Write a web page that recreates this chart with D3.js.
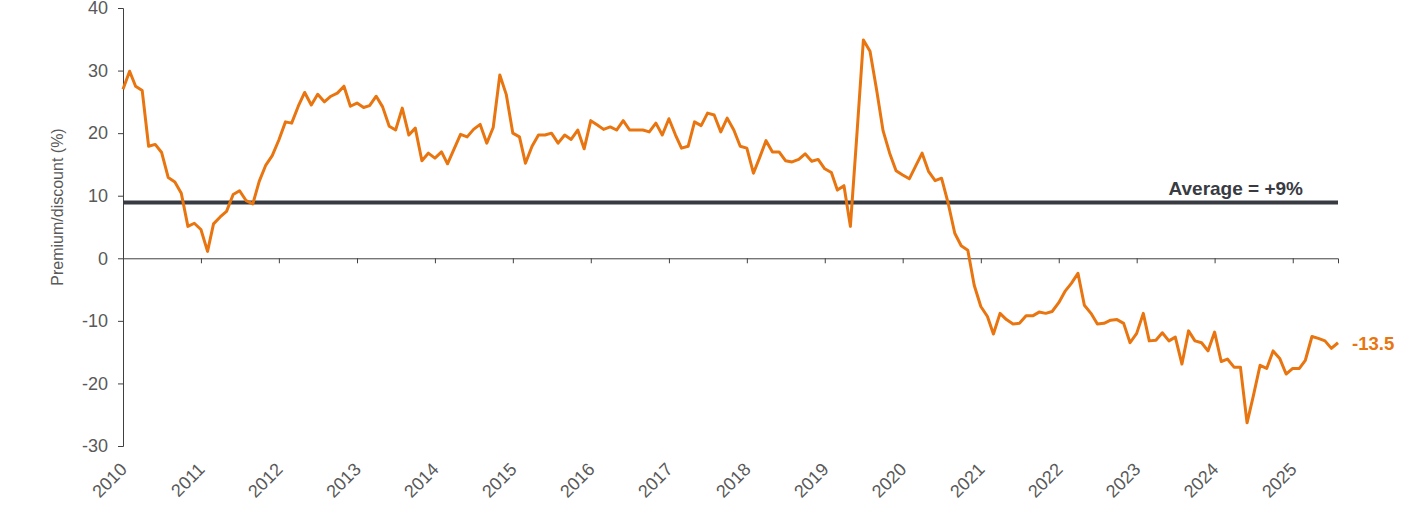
<!DOCTYPE html>
<html>
<head>
<meta charset="utf-8">
<script src="https://cdn.jsdelivr.net/npm/d3@7"></script>
<style>
  body { margin: 0; background: #fff; }
  svg { display: block; font-family: 'Liberation Sans', Arial, sans-serif; }
</style>
</head>
<body>
<svg></svg>
<script>
const w = 1417
const h = 510

// monthly premium/discount (%), starting Jan 2010
const startMonth = '2010-01'
const premium = [
  27.0, 29.9, 27.5, 26.8, 17.9, 18.2, 16.9, 12.9, 12.2, 10.4, 5.1, 5.6,        // 2010
  4.6, 1.1, 5.5, 6.6, 7.5, 10.2, 10.8, 9.2, 8.7, 12.3, 14.9, 16.4,             // 2011
  18.9, 21.8, 21.6, 24.3, 26.5, 24.5, 26.2, 25.0, 25.9, 26.4, 27.5, 24.3,      // 2012
  24.8, 24.1, 24.4, 25.9, 24.2, 21.1, 20.5, 24.0, 19.7, 20.8, 15.6, 16.8,      // 2013
  16.0, 17.0, 15.1, 17.5, 19.8, 19.4, 20.6, 21.4, 18.4, 20.9, 29.3, 26.2,      // 2014
  20.0, 19.4, 15.2, 17.9, 19.7, 19.7, 20.0, 18.4, 19.7, 19.0, 20.5, 17.5,      // 2015
  22.0, 21.3, 20.6, 21.0, 20.5, 22.0, 20.5, 20.5, 20.5, 20.2, 21.6, 19.7,      // 2016
  22.3, 19.7, 17.6, 17.9, 21.8, 21.2, 23.2, 22.9, 20.2, 22.4, 20.5, 17.9,      // 2017
  17.6, 13.6, 16.0, 18.8, 17.0, 17.0, 15.6, 15.4, 15.8, 16.7, 15.5, 15.8,      // 2018
  14.3, 13.7, 10.9, 11.6, 5.1, 20.0, 34.9, 33.1, 26.9, 20.4, 16.8, 14.0,       // 2019
  13.3, 12.7, 14.7, 16.8, 13.9, 12.4, 12.8, 8.8, 4.0, 2.0, 1.3, -4.3,          // 2020
  -7.7, -9.3, -12.1, -8.8, -9.8, -10.5, -10.4, -9.2, -9.2, -8.6, -8.8, -8.5,   // 2021
  -7.1, -5.2, -4.0, -2.4, -7.5, -8.8, -10.5, -10.4, -9.9, -9.8, -10.4, -13.5,  // 2022
  -12.0, -8.8, -13.2, -13.1, -11.9, -13.2, -12.6, -16.9, -11.6, -13.2, -13.5, -14.8, // 2023
  -11.8, -16.5, -16.1, -17.4, -17.4, -26.3, -21.9, -17.1, -17.6, -14.8, -16.0, -18.5, // 2024
  -17.6, -17.6, -16.3, -12.5, -12.8, -13.2, -14.4, -13.5                       // 2025
]

const average = 8.9
const averageLabel = 'Average = +9%'
const yTicks = [40, 30, 20, 10, 0, -10, -20, -30]
const xTickYears = d3.range(2010, 2026)
const yLabel = 'Premium/discount (%)'

const orange = '#e8750f'
const grey = '#595959'
const dark = '#383b42'

const svg = d3.select('svg')
  .attr('width', w)
  .attr('height', h)

const parseMonth = d3.timeParse('%Y-%m')
const start = parseMonth(startMonth)
const data = premium.map((v, i) => ({ date: d3.timeMonth.offset(start, i), value: v }))

const margin = { top: 8, right: 79, bottom: 64, left: 123 }
const innerWidth = w - margin.left - margin.right
const innerHeight = h - margin.top - margin.bottom

const xScale = d3.scaleTime()
  .domain(d3.extent(data, d => d.date))
  .range([0, innerWidth])

const yScale = d3.scaleLinear()
  .domain([-30, 40])
  .range([innerHeight, 0])

const g = svg.append('g')
  .attr('transform', `translate(${margin.left}, ${margin.top})`)

// y axis (plain hyphen for negatives, like the source)
const yAxisG = g.append('g')
  .call(d3.axisLeft(yScale).tickValues(yTicks).tickSize(5).tickPadding(10).tickFormat(d => String(d)))
yAxisG.select('.domain').attr('stroke', '#404040')
yAxisG.selectAll('.tick line').attr('stroke', '#404040')
yAxisG.selectAll('text')
  .attr('font-size', 18)
  .attr('fill', grey)

// x axis on the zero line
const xTickDates = xTickYears.map(y => new Date(y, 0, 1))
const zeroAxis = g.append('g')
  .attr('transform', `translate(0, ${yScale(0)})`)
  .call(d3.axisBottom(xScale).tickValues(xTickDates).tickSize(5).tickFormat(''))
zeroAxis.select('.domain').attr('stroke', '#404040')
zeroAxis.selectAll('.tick line').attr('stroke', '#404040')

// year labels below the plot
const labelAxis = g.append('g')
  .attr('transform', `translate(0, ${innerHeight})`)
  .call(d3.axisBottom(xScale).tickValues(xTickDates).tickSize(0).tickFormat(d3.timeFormat('%Y')))
labelAxis.select('.domain').remove()
labelAxis.selectAll('text')
  .attr('font-size', 18)
  .attr('fill', grey)
  .attr('text-anchor', 'end')
  .attr('dy', null)
  .attr('y', null)
  .attr('transform', 'translate(4.5, 24.5) rotate(-45)')

// y label
svg.append('text')
  .attr('transform', `translate(63, 207) rotate(-90)`)
  .attr('text-anchor', 'middle')
  .attr('font-size', 16)
  .attr('fill', grey)
  .text(yLabel)

// average line
g.append('line')
  .attr('x1', 0)
  .attr('x2', innerWidth)
  .attr('y1', yScale(average))
  .attr('y2', yScale(average))
  .attr('stroke', dark)
  .attr('stroke-width', 4)

g.append('text')
  .attr('x', innerWidth - 35)
  .attr('y', yScale(average) - 8)
  .attr('text-anchor', 'end')
  .attr('font-size', 19)
  .attr('font-weight', 'bold')
  .attr('fill', dark)
  .text(averageLabel)

// series
const line = d3.line()
  .x(d => xScale(d.date))
  .y(d => yScale(d.value))

g.append('path')
  .datum(data)
  .attr('fill', 'none')
  .attr('stroke', orange)
  .attr('stroke-width', 3)
  .attr('stroke-linejoin', 'round')
  .attr('d', line)

const last = data[data.length - 1]
g.append('text')
  .attr('x', xScale(last.date) + 14)
  .attr('y', yScale(last.value) + 7)
  .attr('font-size', 18.5)
  .attr('font-weight', 'bold')
  .attr('fill', orange)
  .text(last.value.toFixed(1))
</script>
</body>
</html>
